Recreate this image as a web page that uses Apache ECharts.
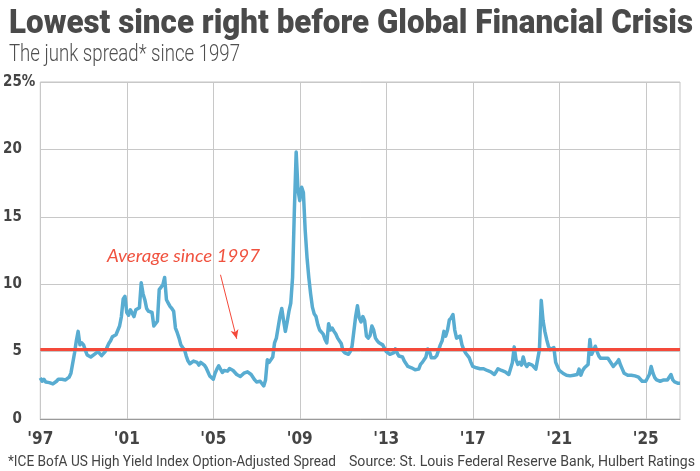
<!DOCTYPE html>
<html lang="en">
<head>
<meta charset="UTF-8" />
<title>Junk spread since 1997</title>
<style>
  body { margin: 0; overflow: hidden; background: #fff; }
  #chart { width: 700px; height: 471px; }
</style>
<script src="https://cdn.jsdelivr.net/npm/echarts@6/dist/echarts.min.js"></script>
</head>
<body>
<div id="chart"></div>
<script>
  // ICE BofA US HY OAS, monthly readings (%)
  var firstYear = 1997;
  var spread97to04 = [
    3.05, 2.8, 2.95, 2.75, 2.85, 2.7, 2.65, 2.6, 2.58, 2.8, 2.95, 2.9,
    2.95, 2.85, 2.9, 2.8, 3.1, 3.4, 3.5, 4.9, 5.8, 6.5, 5.5, 5.65,
    5.5, 5.1, 4.75, 4.7, 4.6, 4.67, 4.8, 4.9, 5.0, 4.85, 4.7, 4.75,
    5.0, 5.3, 5.6, 5.8, 6.1, 6.05, 6.25, 6.3, 6.9, 7.6, 8.9, 9.1,
    7.9, 7.7, 8.1, 7.85, 7.6, 8.1, 8.0, 8.25, 10.1, 9.3, 8.85, 8.2,
    8.0, 8.1, 7.9, 6.9, 7.0, 7.25, 9.6, 9.7, 9.95, 10.5, 8.85, 8.6,
    8.35, 8.2, 8.0, 6.75, 6.4, 6.0, 5.5, 5.3, 5.15, 4.67, 4.3, 4.1,
    4.05, 4.3, 4.4, 4.2, 4.0, 4.2, 4.1, 4.0, 3.8, 3.5, 3.2, 3.1
  ];
  var spread05to12 = [
    2.95, 3.4, 3.7, 3.95, 4.05, 3.45, 3.6, 3.7, 3.55, 3.75, 3.75, 3.6,
    3.5, 3.3, 3.2, 3.15, 3.25, 3.4, 3.45, 3.5, 3.4, 3.3, 3.1, 2.9,
    2.75, 2.85, 2.8, 2.7, 2.45, 2.9, 4.4, 4.2, 4.3, 4.6, 5.65, 6.0,
    6.8, 7.6, 8.2, 7.3, 6.5, 7.2, 8.0, 8.6, 10.5, 15.5, 19.8, 17.0,
    16.2, 17.2, 16.8, 14.0, 12.0, 10.5, 9.3, 8.3, 7.8, 7.6, 7.0, 6.6,
    6.5, 6.3, 5.9, 5.65, 7.07, 6.6, 6.75, 6.5, 6.3, 6.0, 6.0, 5.6,
    5.05, 4.9, 4.8, 4.8, 5.0, 5.4, 5.5, 7.6, 8.4, 7.5, 7.2, 7.6,
    7.3, 6.15, 6.0, 6.2, 6.9, 6.6, 6.0, 5.8, 5.65, 5.6, 5.5, 5.4
  ];
  var spread13to20 = [
    5.0, 5.0, 4.8, 4.67, 4.9, 5.2, 4.9, 4.67, 4.8, 4.6, 4.3, 4.1,
    3.9, 3.95, 3.8, 3.73, 3.65, 3.56, 3.7, 4.05, 4.2, 4.3, 4.6, 5.2,
    5.0, 4.55, 4.6, 4.55, 4.7, 4.8, 5.5, 5.8, 6.5, 6.15, 6.6, 7.35,
    7.5, 7.75, 6.6, 6.0, 6.1, 6.15, 5.5, 5.15, 4.9, 4.8, 4.55, 4.2,
    3.9, 3.85, 3.8, 3.8, 3.73, 3.7, 3.73, 3.8, 3.6, 3.56, 3.5, 3.4,
    3.3, 3.5, 3.73, 3.6, 3.6, 3.56, 3.5, 3.4, 3.3, 3.3, 4.2, 5.35,
    4.4, 4.05, 4.2, 4.0, 4.6, 4.1, 3.9, 4.1, 4.2, 4.0, 3.9, 3.7,
    3.7, 5.15, 8.8, 7.3, 6.5, 5.9, 5.4, 5.15, 5.2, 5.3, 4.2, 3.9
  ];
  var spread21to26 = [
    3.6, 3.5, 3.4, 3.3, 3.25, 3.2, 3.2, 3.3, 3.25, 3.2, 3.3, 3.7,
    3.25, 3.6, 3.8, 3.9, 4.05, 5.9, 4.8, 4.9, 5.4, 5.0, 4.67, 4.5,
    4.4, 4.5, 4.55, 4.5, 4.3, 4.1, 3.9, 4.0, 4.2, 4.4, 4.0, 3.7,
    3.4, 3.3, 3.25, 3.3, 3.25, 3.2, 3.2, 3.3, 3.1, 2.95, 2.8, 2.75,
    2.8, 2.85, 3.3, 3.9, 3.4, 3.07, 2.9, 2.8, 2.8, 2.85, 2.9, 2.9,
    2.9, 2.95, 3.3, 2.9, 2.75, 2.7, 2.65, 2.65
  ];
  var average = 5.2;
  var tickYears = [1997, 2001, 2005, 2009, 2013, 2017, 2021, 2025];
  var tickLabels = ["'97", "'01", "'05", "'09", "'13", "'17", "'21", "'25"];

  var spread = spread97to04.concat(spread05to12, spread13to20, spread21to26);
  var months = [];
  for (var i = 0; i < spread.length; i++) {
    var y = firstYear + Math.floor(i / 12);
    var m = (i % 12) + 1;
    months.push(y + '-' + (m < 10 ? '0' + m : m));
  }

  function isTick(index, value) {
    return value.slice(5) === '01' && tickYears.indexOf(+value.slice(0, 4)) >= 0;
  }

  // no condensed face installed: squeeze the text horizontally to the width it has in the original
  var measure = document.createElement('canvas').getContext('2d');
  function textBlock(text, font, color, x, y, width) {
    measure.font = font;
    var s = width / measure.measureText(text).width;
    return {
      type: 'text', x: x, y: y, scaleX: s, originX: 0, z: 10,
      style: { text: text, font: font, fill: color, verticalAlign: 'middle' }
    };
  }

  var narrow = '"DejaVu Sans Condensed", "Roboto", sans-serif';
  var red = '#f4493a';

  var chart = echarts.init(document.getElementById('chart'));
  var option = {
    animation: false,
    backgroundColor: '#fff',
    grid: {
      left: 39, right: 20, top: 82, bottom: 52,
      show: true, borderColor: '#c4c4c4', borderWidth: 1
    },
    xAxis: {
      type: 'category',
      data: months,
      boundaryGap: false,
      axisLine: { lineStyle: { color: '#9a9a9a', width: 1 } },
      axisTick: { show: false },
      axisLabel: {
        interval: isTick,
        margin: 12,
        fontFamily: narrow, fontWeight: 'bold', fontSize: 17, color: '#444',
        formatter: function (v) {
          return tickLabels[tickYears.indexOf(+v.slice(0, 4))];
        }
      },
      splitLine: { show: true, interval: isTick, lineStyle: { color: '#c8c8c8', width: 1 } }
    },
    yAxis: {
      type: 'value',
      min: 0, max: 25, interval: 5,
      axisLine: { show: false },
      axisTick: { show: false },
      axisLabel: {
        margin: 5,
        fontFamily: narrow, fontWeight: 'bold', fontSize: 15, color: '#444',
        formatter: function (v) {
          return v === 25 ? '25%' : v + '{h|%}';
        },
        rich: { h: { color: 'rgba(0,0,0,0)', fontFamily: narrow, fontWeight: 'bold', fontSize: 15 } }
      },
      splitLine: { lineStyle: { color: '#c8c8c8', width: 1 } }
    },
    series: [{
      type: 'line',
      data: spread,
      showSymbol: false,
      z: 3,
      lineStyle: { color: '#58acd1', width: 3.5, join: 'round' },
      markLine: {
        silent: true,
        symbol: 'none',
        label: { show: false },
        z: 4,
        data: [
          { yAxis: average, lineStyle: { color: red, width: 3, type: 'solid' } },
          [
            { coord: ['2005-05', 10.7], symbol: 'none' },
            { coord: ['2006-02', 5.95], symbol: 'arrow', symbolSize: [6, 9] }
          ]
        ],
        lineStyle: { color: red, width: 1, type: 'solid' }
      }
    }],
    graphic: [
      textBlock('Lowest since right before Global Financial Crisis', '900 33px Roboto', '#4a4a4a', 9, 25, 684),
      textBlock('The junk spread* since 1997', '300 23px Roboto', '#4f4f4f', 9, 55, 231),
      textBlock('Average since 1997', 'italic 17px Lato', '#f0523f', 107, 257, 153),
      textBlock('*ICE BofA US High Yield Index Option-Adjusted Spread', '15px Roboto', '#444', 8, 462, 328),
      textBlock('Source: St. Louis Federal Reserve Bank, Hulbert Ratings', '15px Roboto', '#444', 349, 462, 346)
    ]
  };
  chart.setOption(option);
</script>
</body>
</html>
